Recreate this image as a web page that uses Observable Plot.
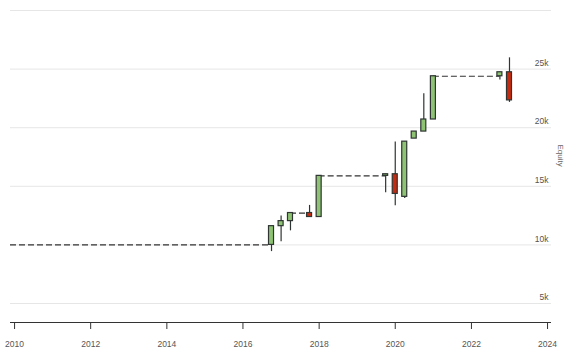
<!DOCTYPE html>
<html>
<head>
<meta charset="utf-8">
<script src="https://cdn.jsdelivr.net/npm/d3@7"></script>
<script src="https://cdn.jsdelivr.net/npm/@observablehq/plot@0.6"></script>
<style>
  html, body { margin: 0; padding: 0; background: #fff; }
  svg { display: block; }
</style>
</head>
<body>
<div id="chart"></div>
<script>
// ---- data ----
const startDate = "2009-11-23";
const endDate = "2024-02-08";
const initialEquity = 10000;
const dates = ["2016-10-01","2017-01-01","2017-04-01","2017-10-01","2018-01-01","2019-10-01","2020-01-01","2020-04-01","2020-07-01","2020-10-01","2021-01-01","2022-10-01","2023-01-01"];
const opens  = [10000, 11600, 12030, 12720, 12380, 15890, 16030, 14100, 19070, 19670, 20700, 24390, 24730];
const closes = [11600, 12030, 12720, 12380, 15890, 16030, 14350, 18810, 19670, 20700, 24390, 24730, 22330];
const highs  = [11600, 12460, 12720, 13370, 15890, 16030, 18780, 18810, 19670, 22900, 24390, 24730, 25960];
const lows   = [ 9430, 10280, 11200, 12380, 12380, 14440, 13350, 13970, 19070, 19670, 20700, 24070, 22160];
const yTicks = [5000, 10000, 15000, 20000, 25000];
const yGrid = [5000, 10000, 15000, 20000, 25000, 30000];
const yLabel = "Equity";

// ---- build table ----
const parse = d3.utcParse("%Y-%m-%d");
const DAY = 864e5;
const candles = dates.map((d, i) => ({
  date: parse(d), open: opens[i], close: closes[i], high: highs[i], low: lows[i]
}));
// flat (no-trade) periods drawn as dashed segments
const flats = [{x1: parse(startDate), x2: candles[0].date, v: initialEquity}];
for (let i = 1; i < candles.length; i++) {
  if (candles[i].date - candles[i - 1].date > 120 * DAY) {
    flats.push({x1: candles[i - 1].date, x2: candles[i].date, v: candles[i - 1].close});
  }
}
const half = 24 * DAY;

const chart = Plot.plot({
  width: 580,
  height: 360,
  marginLeft: 10,
  marginRight: 29,
  marginTop: 10,
  marginBottom: 38,
  style: {fontFamily: "'Liberation Sans', Arial, sans-serif", background: "#fff"},
  x: {type: "utc", domain: [parse(startDate), parse(endDate)]},
  y: {domain: [3380, 30000], axis: null},
  marks: [
    Plot.ruleY(yGrid, {stroke: "#e6e6e6", strokeWidth: 1}),
    Plot.ruleY(flats, {x1: "x1", x2: "x2", y: "v", stroke: "#333", strokeWidth: 1.2, strokeDasharray: "6,3"}),
    Plot.ruleX(candles, {x: "date", y1: "low", y2: "high", stroke: "#2e3532", strokeWidth: 1.2}),
    Plot.rect(candles, {
      x1: d => new Date(+d.date - half),
      x2: d => new Date(+d.date + half),
      y1: "open", y2: "close",
      fill: d => d.close >= d.open ? "#8ec373" : "#c42b10",
      stroke: "#2e3532", strokeWidth: 1.2
    }),
    Plot.text(yTicks, {
      y: d => d, text: d => d / 1000 + "k", frameAnchor: "right",
      textAnchor: "end", dx: -3, dy: -6, fontSize: 8.5, fill: "#555"
    }),
    Plot.text([yLabel], {
      frameAnchor: "top-right", dx: 12, dy: 145, rotate: 90,
      textAnchor: "middle", fontSize: 8, fill: "#666"
    }),
    Plot.ruleY([3380], {stroke: "#333", strokeWidth: 1.2}),
    Plot.axisX({
      ticks: d3.utcYear.every(2), tickFormat: d3.utcFormat("%Y"),
      tickSize: 7, tickPadding: 11, fontSize: 8.5, color: "#555", stroke: "#333", label: null
    })
  ]
});
document.getElementById("chart").appendChild(chart);
</script>
</body>
</html>
